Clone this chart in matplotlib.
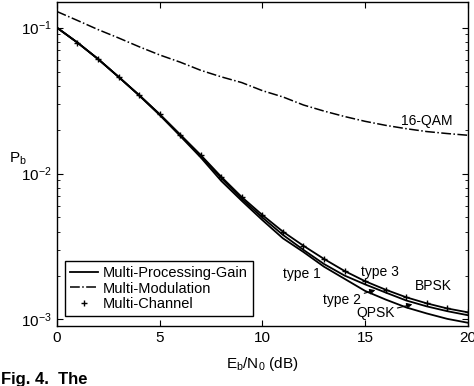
import matplotlib
matplotlib.use('Agg')
import matplotlib.pyplot as plt
import numpy as np

plt.rcParams['font.family'] = ['Liberation Sans', 'DejaVu Sans']
plt.rcParams['mathtext.fontset'] = 'custom'
plt.rcParams['mathtext.rm'] = 'Liberation Sans'
plt.rcParams['mathtext.it'] = 'Liberation Sans'

# Eb/N0 in dB
snr_db = list(range(0, 21))

# upper curve (type 3 / BPSK), also where the Multi-Channel points sit
p_type3 = [0.100, 0.079, 0.061, 0.046, 0.0345, 0.0255, 0.0185, 0.0134, 0.0095, 0.0069,
           0.0052, 0.0040, 0.0032, 0.0026, 0.00215, 0.00183, 0.00160, 0.00142, 0.00129,
           0.00119, 0.00112]
# middle curve (type 2)
p_type2 = [0.100, 0.079, 0.061, 0.046, 0.0345, 0.0255, 0.0184, 0.0132, 0.0093, 0.0067,
           0.0050, 0.0038, 0.0030, 0.0024, 0.0020, 0.00174, 0.00153, 0.00135, 0.00123,
           0.00114, 0.00107]
# lower curve (type 1 / QPSK)
p_type1 = [0.100, 0.079, 0.061, 0.046, 0.0343, 0.0252, 0.0181, 0.0129, 0.0089, 0.0065,
           0.0048, 0.0036, 0.0029, 0.0023, 0.0019, 0.00157, 0.00137, 0.00121, 0.00110,
           0.00101, 0.00095]
# Multi-Modulation, 16-QAM
p_qam16 = [0.129, 0.112, 0.097, 0.085, 0.074, 0.065, 0.058, 0.051, 0.046, 0.042,
           0.037, 0.0335, 0.0295, 0.0268, 0.0246, 0.0228, 0.0214, 0.0203, 0.0194,
           0.0188, 0.0183]

fig = plt.figure(figsize=(4.74, 3.86), dpi=100)
ax = fig.add_axes([0.120, 0.155, 0.867, 0.840])

l1, = ax.semilogy(snr_db, p_type3, 'k-', lw=1.3)
ax.semilogy(snr_db, p_type2, 'k-', lw=1.3)
ax.semilogy(snr_db, p_type1, 'k-', lw=1.3)
l2, = ax.semilogy(snr_db, p_qam16, 'k-.', lw=1.1)
l3, = ax.semilogy(snr_db[1:], p_type3[1:], 'k+', ms=5, mew=1.0, ls='none')

ax.set_xlim(0, 20)
ax.set_ylim(9e-4, 0.15)
ax.set_xticks([0, 5, 10, 15, 20])
ax.tick_params(which='both', direction='in', top=True, right=True, labelsize=11)
ax.tick_params(which='major', length=4)
ax.tick_params(which='minor', length=2)
for sp in ax.spines.values():
    sp.set_linewidth(1.0)

ax.set_xlabel(r'E$_b$/N$_0$ (dB)', fontsize=11, labelpad=7)
ax.set_ylabel(r'P$_b$', fontsize=11, rotation=0, labelpad=14)
ax.yaxis.set_label_coords(-0.095, 0.49)

ax.text(18.0, 0.0229, '16-QAM', fontsize=10, ha='center', va='center')
ax.text(11.9, 0.00204, 'type 1', fontsize=10, ha='center', va='center')
ax.text(15.7, 0.0021, 'type 3', fontsize=10, ha='center', va='center')
ax.text(18.3, 0.00169, 'BPSK', fontsize=10, ha='center', va='center')
ax.annotate('type 2', xy=(15.5, 0.00159), xytext=(13.9, 0.00137), fontsize=10,
            ha='center', va='center',
            arrowprops=dict(arrowstyle='-|>', color='k', lw=0.8, mutation_scale=8,
                            shrinkA=13, shrinkB=0))
ax.annotate('QPSK', xy=(17.3, 0.00127), xytext=(15.5, 0.00110), fontsize=10,
            ha='center', va='center',
            arrowprops=dict(arrowstyle='-|>', color='k', lw=0.8, mutation_scale=8,
                            shrinkA=13, shrinkB=0))

leg = ax.legend([l1, l2, l3], ['Multi-Processing-Gain', 'Multi-Modulation', 'Multi-Channel'],
                loc='lower left', bbox_to_anchor=(0.019, 0.031), borderaxespad=0,
                fontsize=10.5, handlelength=1.9, handletextpad=0.35, labelspacing=0.1,
                borderpad=0.35, fancybox=False, framealpha=1, edgecolor='k')
leg.get_frame().set_linewidth(1.0)

fig.text(0.002, 0.036, 'Fig. 4.  The', fontsize=12, fontweight='bold', va='top')

fig.savefig('out.png', dpi=100)
